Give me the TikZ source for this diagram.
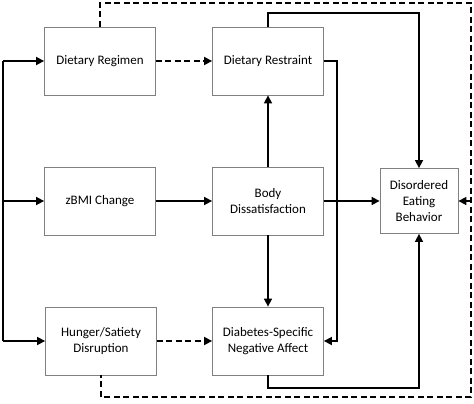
\documentclass[tikz,border=0pt]{standalone}
\usepackage{fontspec}
\setmainfont{Carlito}
\usetikzlibrary{arrows.meta,positioning,calc}

\begin{document}
\begin{tikzpicture}[x=1pt,y=-1pt,
	box/.style={draw=gray,line width=0.8pt,minimum width=111pt,minimum height=68pt,align=center,inner sep=2pt,font=\fontsize{13}{16}\selectfont},
	link/.style={line width=1.6pt,-{Triangle[length=8pt,width=8pt]}},
	bus/.style={line width=1.6pt},
	dlink/.style={link,dash pattern=on 6pt off 3.5pt},
	dbus/.style={bus,dash pattern=on 6pt off 3.5pt}]
	\useasboundingbox (0,0) rectangle (474,404);
	% boxes
	\node[box] (regimen) at (100,61) {Dietary Regimen};
	\node[box] (restraint) at (268,61) {Dietary Restraint};
	\node[box] (zbmi) at (100,201) {zBMI Change};
	\node[box] (body) at (268,201) {Body\\Dissatisfaction};
	\node[box] (hunger) at (101,341) {Hunger/Satiety\\Disruption};
	\node[box] (affect) at (268,341) {Diabetes-Specific\\Negative Affect};
	\node[box,minimum width=78pt,minimum height=65pt] (deb) at (419,201) {Disordered\\Eating\\Behavior};
	% helper lines
	\coordinate (spine) at (3,0);
	\coordinate (dtop) at (0,3);
	\coordinate (dright) at (471,0);
	\coordinate (dbot) at (0,397);
	\coordinate (stop) at (0,13);
	\coordinate (sbot) at (0,388);
	\coordinate (rbus) at (337,0);
	% left spine
	\draw[bus] (regimen.west -| spine) -- (hunger.west -| spine);
	\draw[link] (regimen.west -| spine) -- (regimen.west);
	\draw[link] (zbmi.west -| spine) -- (zbmi.west);
	\draw[link] (hunger.west -| spine) -- (hunger.west);
	% middle column
	\draw[dlink] (regimen) -- (restraint);
	\draw[link] (zbmi) -- (body);
	\draw[dlink] (hunger) -- (affect);
	\draw[link] (body) -- (restraint);
	\draw[link] (body) -- (affect);
	\draw[link] (body) -- (deb);
	\draw[link] (restraint.east) -- (restraint.east -| rbus) |- (affect.east);
	% into disordered eating
	\draw[link] (restraint.north) -- (restraint.north |- stop) -| (deb.north);
	\draw[link] (affect.south) -- (affect.south |- sbot) -| (deb.south);
	% dashed loop
	\draw[dbus] (regimen.north) -- (regimen.north |- dtop) -| (dright |- dbot) -| (hunger.south);
	\draw[link] (dright |- deb.east) -- (deb.east);
\end{tikzpicture}
\end{document}
